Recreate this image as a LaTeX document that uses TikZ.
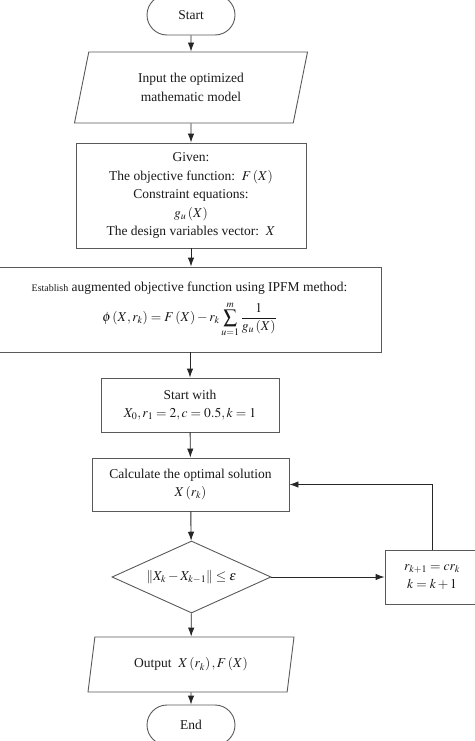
\documentclass[tikz,border=0pt]{standalone}
\usepackage{amsmath}
\usepackage{mathptmx}
\usepackage[no-math]{fontspec}
\setmainfont{Liberation Serif}
\usetikzlibrary{shapes.geometric,shapes.misc,arrows.meta,positioning,calc}

\begin{document}
\begin{tikzpicture}[x=1pt,y=-1pt,
    every node/.style={font=\fontsize{13.5}{18.5}\selectfont, text=black!90},
    box/.style={draw=black!65, line width=0.9pt, align=center, inner sep=0pt},
    term/.style={box, rounded rectangle, minimum width=88, minimum height=40},
    io/.style={box, trapezium, trapezium left angle=63, trapezium right angle=117,
        trapezium stretches body=true},
    arr/.style={-{Latex[length=9pt,width=6.5pt]}, draw=black!85, line width=0.9pt}]
    \useasboundingbox (0,0) rectangle (474,741);

    % Start and input
    \node[term] (start) at (191,15) {Start};
    \node[io, minimum width=233, minimum height=71] (input) at (191,87.5)
        {Input the optimized\\mathematic model};

    % Given model
    \node[box, minimum width=230, minimum height=105] (given) at (191,195.5)
        {Given:\\
         The objective function:\enspace $F\left(X\right)$\\
         Constraint equations:\\
         $g_u\left(X\right)$\\
         The design variables vector:\enspace $X$};

    % Augmented objective function
    \node[box, minimum width=384, minimum height=85] (augment) at (189.5,309.5)
        {{\fontsize{10}{12}\selectfont Establish} augmented objective function using IPFM method:\\[6pt]
         $\displaystyle \phi\left(X,r_k\right)=F\left(X\right)-r_k\sum_{u=1}^{m}\frac{1}{g_u\left(X\right)}$};

    % Initial values and iteration
    \node[box, minimum width=178, minimum height=54] (init) at (190,405)
        {Start with\\$X_0,r_1=2,c=0.5,k=1$};
    \node[box, minimum width=197, minimum height=53] (solve) at (190.5,484.5)
        {Calculate the optimal solution\\$X\left(r_k\right)$};
    \node[box, diamond, minimum width=159, minimum height=72, aspect=2.2] (check) at (191.5,577)
        {$\left\| X_k-X_{k-1}\right\|\le\varepsilon$};
    \node[box, minimum width=94, minimum height=54] (update) at (432,577)
        {$r_{k+1}=cr_k$\\$k=k+1$};

    % Output and end
    \node[io, minimum width=206, minimum height=55] (output) at (191,664.5)
        {Output\enspace$X\left(r_k\right),F\left(X\right)$};
    \node[term] (end) at (191,725) {End};

    % Arrows
    \draw[arr] (start) -- (input);
    \draw[arr] (input) -- (given);
    \draw[arr] (given) -- (augment.north -| given.south);
    \draw[arr] (augment.south -| init.north) -- (init);
    \draw[arr] (init) -- (solve);
    \draw[arr] (solve) -- (check);
    \draw[arr] (check) -- (output);
    \draw[arr] (output) -- (end);
    \draw[arr] (check) -- (update);
    \draw[arr] (update.north) |- (solve.east);
\end{tikzpicture}
\end{document}
